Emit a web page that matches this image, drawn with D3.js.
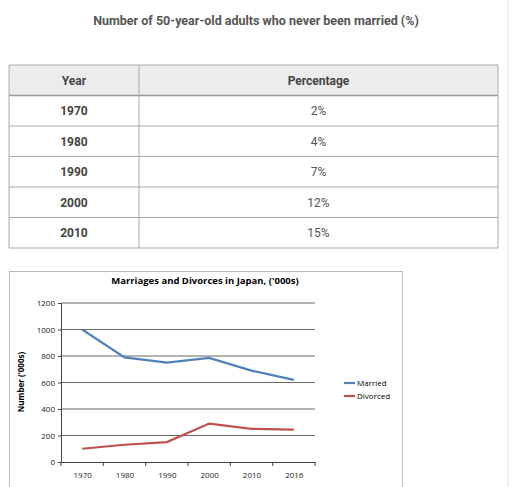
<!DOCTYPE html>
<html><head><meta charset="utf-8">
<script src="https://cdn.jsdelivr.net/npm/d3@7"></script>
<style>body{margin:0;background:#fff;}</style>
</head><body><div id="main"></div>
<script>
const tableYears = ["1970", "1980", "1990", "2000", "2010"];
const tablePct = ["2%", "4%", "7%", "12%", "15%"];
const chartYears = ["1970", "1980", "1990", "2000", "2010", "2016"];
const married = [1000, 790, 750, 785, 690, 620];
const divorced = [100, 130, 150, 290, 250, 245];
const yTicks = [0, 200, 400, 600, 800, 1000, 1200];

const svg = d3.select("#main").append("svg").attr("width", 512).attr("height", 487)
    .style("font-family", "Roboto, sans-serif");

svg.append("line").attr("x1", 508).attr("x2", 508).attr("y1", 0).attr("y2", 487).attr("stroke", "#e4e4e4");

svg.append("text").attr("x", 256).attr("y", 25).attr("text-anchor", "middle")
   .attr("font-size", 12.5).attr("font-weight", "bold").attr("fill", "#555")
   .text("Number of 50-year-old adults who never been married (%)");

// table
const tx0 = 9, tx1 = 498, tdiv = 139, ty0 = 65, rowH = 30.5;
svg.append("rect").attr("x", tx0).attr("y", ty0).attr("width", tx1 - tx0).attr("height", rowH)
   .attr("fill", "#ececec");
const rows = [["Year", "Percentage"]].concat(tableYears.map((y, i) => [y, tablePct[i]]));
rows.forEach((r, i) => {
    const y = ty0 + i * rowH;
    svg.append("text").attr("x", (tx0 + tdiv) / 2).attr("y", y + rowH / 2 + 4.5)
       .attr("text-anchor", "middle").attr("font-size", 12).attr("font-weight", "bold")
       .attr("fill", "#444").text(r[0]);
    svg.append("text").attr("x", (tdiv + tx1) / 2).attr("y", y + rowH / 2 + 4.5)
       .attr("text-anchor", "middle").attr("font-size", 12).attr("font-weight", i == 0 ? "bold" : "normal")
       .attr("fill", i == 0 ? "#444" : "#555").text(r[1]);
});
for (let i = 0; i <= rows.length; i++) {
    svg.append("line").attr("x1", tx0).attr("x2", tx1).attr("y1", ty0 + i * rowH).attr("y2", ty0 + i * rowH)
       .attr("stroke", i == 1 ? "#999" : "#aaa").attr("stroke-width", i == 1 ? 1.5 : 1);
}
[tx0, tdiv, tx1].forEach(x => svg.append("line").attr("x1", x).attr("x2", x)
    .attr("y1", ty0).attr("y2", ty0 + rows.length * rowH).attr("stroke", "#aaa"));

// chart
svg.append("rect").attr("x", 9.5).attr("y", 271.5).attr("width", 393).attr("height", 220)
   .attr("fill", "none").attr("stroke", "#bbb");
svg.append("text").attr("x", 205).attr("y", 284).attr("text-anchor", "middle")
   .attr("font-family", "'Open Sans', sans-serif").attr("font-size", 9.5).attr("font-weight", "bold")
   .text("Marriages and Divorces in Japan, ('000s)");

const x = d3.scalePoint().domain(chartYears).range([61, 315]).padding(0.5);
const y = d3.scaleLinear().domain([0, 1200]).range([462, 303]);
const g = svg.append("g").attr("font-family", "'Open Sans', sans-serif");

g.selectAll("line.grid").data(yTicks.slice(1)).enter().append("line")
 .attr("x1", 61).attr("x2", 315).attr("y1", d => y(d)).attr("y2", d => y(d))
 .attr("stroke", "#666").attr("stroke-width", 1.2);

const yAx = g.append("g").attr("transform", "translate(61,0)")
  .call(d3.axisLeft(y).tickValues(yTicks).tickFormat(d3.format("d")).tickSize(3));
const xAx = g.append("g").attr("transform", "translate(0,462)")
  .call(d3.axisBottom(x).tickSize(0));
const step = x.step();
xAx.selectAll("line.sep").data(d3.range(chartYears.length + 1)).enter().append("line")
   .attr("x1", i => 61 + i * step).attr("x2", i => 61 + i * step).attr("y1", 0).attr("y2", 4)
   .attr("stroke", "#444");
[yAx, xAx].forEach(a => {
    a.selectAll("path,line").attr("stroke", "#444");
    a.selectAll("text").attr("font-size", 8).attr("fill", "#222").attr("font-family", "'Open Sans', sans-serif");
});
xAx.selectAll("text").attr("dy", "1.6em");
svg.append("text").attr("transform", "translate(24,382) rotate(-90)").attr("text-anchor", "middle")
   .attr("font-family", "'Open Sans', sans-serif").attr("font-size", 8).attr("font-weight", "bold")
   .text("Number ('000s)");

const line = d3.line().x((d, i) => x(chartYears[i])).y(d => y(d));
const series = [["Married", married, "#4f81bd"], ["Divorced", divorced, "#c0504d"]];
series.forEach((s, k) => {
    g.append("path").datum(s[1]).attr("d", line).attr("fill", "none")
     .attr("stroke", s[2]).attr("stroke-width", 2.2);
    g.append("line").attr("x1", 344).attr("x2", 355).attr("y1", 383 + k * 13).attr("y2", 383 + k * 13)
     .attr("stroke", s[2]).attr("stroke-width", 2.2);
    g.append("text").attr("x", 357).attr("y", 386 + k * 13).attr("font-size", 8).text(s[0]);
});
</script></body></html>
